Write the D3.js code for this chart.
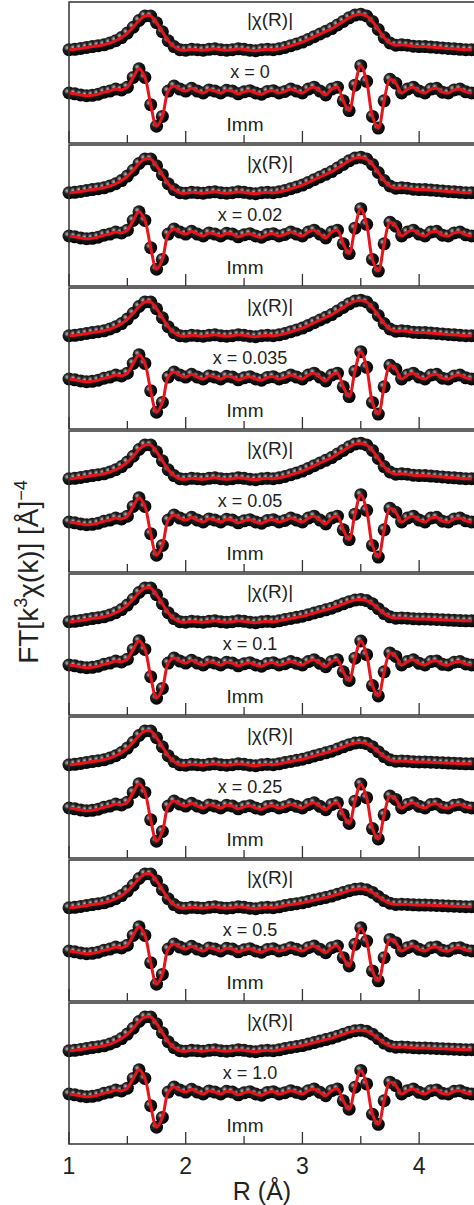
<!DOCTYPE html>
<html><head><meta charset="utf-8">
<script src="https://cdn.jsdelivr.net/npm/d3@7"></script>
<style>body{margin:0;background:#fff}text{font-family:"Liberation Sans",Arial,sans-serif;fill:#222}</style>
</head><body>
<svg id="c" width="474" height="1205"></svg>
<script>
// R grid (Å)
var rGrid = d3.range(70).map(function(i){ return +(1 + i*0.05).toFixed(2); });
// |chi(R)| shape
var absBase = [.05,.06,.08,.10,.12,.14,.16,.20,.25,.32,.42,.55,.70,.80,.80,.65,.45,.25,.12,.05,
  .04,.06,.05,.04,.06,.07,.05,.04,.05,.07,.06,.04,.03,.05,.06,.05,.07,.10,.14,.18,
  .22,.28,.34,.40,.46,.52,.60,.68,.76,.82,.84,.80,.68,.50,.32,.20,.15,.16,.15,.13,
  .12,.12,.11,.10,.09,.08,.07,.06,.05,.05];
// Imaginary part shape
var immBase = [0,-.02,-.05,-.07,-.06,-.03,.02,.05,.10,.08,.15,.40,.62,.40,-.30,-.85,-.60,.05,.18,.10,
  .05,.12,.05,0,.08,.05,0,.07,.05,-.02,.03,.06,0,-.03,.04,.06,0,.04,.10,.05,
  0,.10,.15,.05,-.05,.10,.15,-.20,-.45,.20,.70,.30,-.60,-.90,-.20,.35,.25,0,.10,.15,
  .05,0,.10,.12,.02,0,.08,.10,.03,0];
var xLabels = ["x = 0","x = 0.02","x = 0.035","x = 0.05","x = 0.1","x = 0.25","x = 0.5","x = 1.0"];
// second-shell (R > 2.8 Å) amplitude per panel
var shell2Scale = [1,1,1,1,0.6,0.6,0.5,0.55];
var rTicks = [1,1.5,2,2.5,3,3.5,4];

var svg = d3.select("#c");
var x = d3.scaleLinear().domain([1,4.47]).range([69,474]);
var top0 = 2, ph = 143;
var yAbs = d3.scaleLinear().domain([0,1]).range([50,5]);
var yImm = d3.scaleLinear().domain([-1,1]).range([130,52]);

var defs = svg.append("defs");
var g = defs.append("radialGradient").attr("id","ball").attr("cx","35%").attr("cy","35%").attr("r","65%");
g.append("stop").attr("offset","0%").attr("stop-color","#bbb");
g.append("stop").attr("offset","35%").attr("stop-color","#222");
g.append("stop").attr("offset","100%").attr("stop-color","#000");

xLabels.forEach(function(lab, p){
  var t = top0 + p*ph;
  var panel = svg.append("g").attr("transform","translate(0,"+t+")");
  var s = shell2Scale[p];
  var absV = absBase.map(function(v,i){ return rGrid[i] > 2.8 ? 0.1 + (v-0.1)*s : v; });
  var immV = immBase.map(function(v,i){ return rGrid[i] > 2.8 ? v*(0.7+0.3*s) : v; });
  [[absV,yAbs],[immV,yImm]].forEach(function(d){
    var vals = d[0], ys = d[1];
    panel.selectAll(null).data(vals).enter().append("circle")
      .attr("cx", function(v,i){ return x(rGrid[i]); })
      .attr("cy", function(v){ return ys(v); })
      .attr("r", 6.5).attr("fill","url(#ball)");
    panel.append("path").datum(vals)
      .attr("d", d3.line().x(function(v,i){ return x(rGrid[i]); }).y(function(v){ return ys(v); }).curve(d3.curveCatmullRom))
      .attr("fill","none").attr("stroke","#e8141c").attr("stroke-width",3);
  });
  panel.append("rect").attr("x",69).attr("y",0).attr("width",420).attr("height",ph-2)
    .attr("fill","none").attr("stroke","#333").attr("stroke-width",1.5);
  panel.selectAll(null).data(rTicks).enter().append("line")
    .attr("x1", function(d){ return x(d); }).attr("x2", function(d){ return x(d); })
    .attr("y1", ph-2).attr("y2", function(d){ return d%1===0 ? ph-14 : ph-10; })
    .attr("stroke","#333").attr("stroke-width",1.3);
  panel.append("text").attr("x",270).attr("y",24).attr("text-anchor","middle").attr("font-size",19).text("|\u03c7(R)|");
  panel.append("text").attr("x",250).attr("y",76).attr("text-anchor","middle").attr("font-size",18).text(lab);
  panel.append("text").attr("x",245).attr("y",129).attr("text-anchor","middle").attr("font-size",19).text("Imm");
});

svg.selectAll(".xt").data([1,2,3,4]).enter().append("text")
  .attr("x", function(d){ return x(d); }).attr("y",1174).attr("text-anchor","middle")
  .attr("font-size",23).text(function(d){ return d; });
svg.append("text").attr("x",262).attr("y",1200).attr("text-anchor","middle").attr("font-size",25).text("R (\u00c5)");
var yl = svg.append("text").attr("transform","translate(38,572) rotate(-90)").attr("text-anchor","middle").attr("font-size",28);
yl.append("tspan").text("FT[k");
yl.append("tspan").attr("dy",-11).attr("font-size",18).text("3");
yl.append("tspan").attr("dy",11).text("\u03c7(k)] [\u00c5]");
yl.append("tspan").attr("dy",-11).attr("font-size",18).text("\u22124");
</script>
</body></html>
